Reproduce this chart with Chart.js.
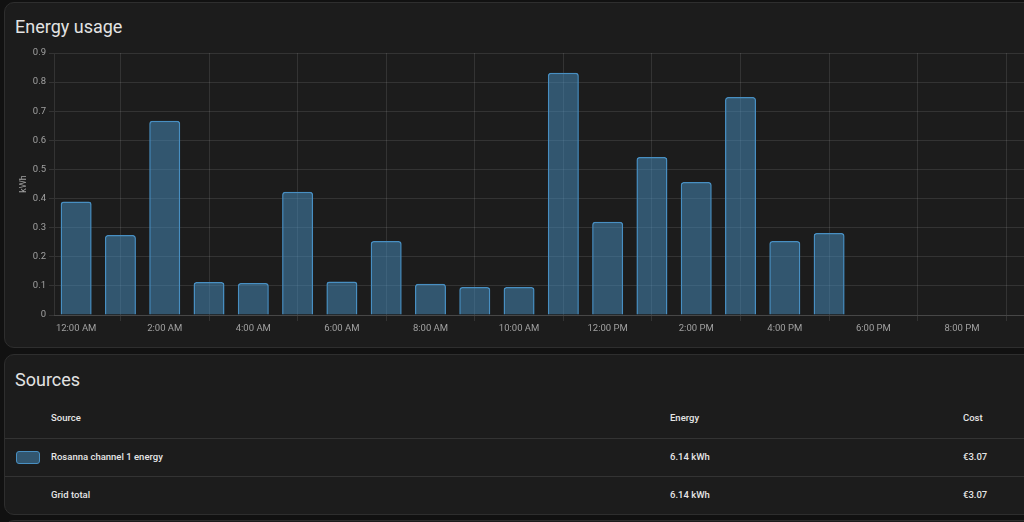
<!DOCTYPE html>
<html>
<head>
<meta charset="utf-8">
<script src="https://cdn.jsdelivr.net/npm/chart.js@4.4.1/dist/chart.umd.min.js"></script>
<style>
    html, body { margin: 0; padding: 0; width: 1024px; height: 522px; overflow: hidden; background: #111111; font-family: Roboto, "Noto Sans", sans-serif; }
    .card { position: absolute; left: 4px; width: 1160px; background: #1c1c1c; border: 1px solid #2e2e2e; border-radius: 10px; box-sizing: border-box; }
    .title { position: absolute; left: 10px; color: #e3e3e3; font-size: 18px; font-weight: 400; }
    #chartWrap { position: absolute; left: 6px; top: 38px; width: 1110px; height: 300px; }
    .row-line { position: absolute; left: 0; right: 0; height: 1px; background: #333333; }
    .cell { position: absolute; color: #e6e6e6; font-size: 9.5px; font-weight: 500; line-height: 12px; }
    .swatch { position: absolute; left: 11px; width: 22px; height: 11px; background: rgba(72, 143, 194, 0.5); border: 1px solid #488fc2; border-radius: 3px; }
</style>
</head>
<body>
<div class="card" style="top:2px;height:346px;">
    <div class="title" style="top:13px;">Energy usage</div>
    <div id="chartWrap"><canvas id="energyChart"></canvas></div>
</div>
<div class="card" style="top:354px;height:161px;">
    <div class="title" style="top:14px;">Sources</div>
    <div class="cell" style="left:46px;top:57px;">Source</div>
    <div class="cell" style="left:665px;top:57px;">Energy</div>
    <div class="cell" style="left:958px;top:57px;">Cost</div>
    <div class="row-line" style="top:83px;"></div>
    <div class="swatch" style="top:96px;"></div>
    <div class="cell" style="left:46px;top:96px;">Rosanna channel 1 energy</div>
    <div class="cell" style="left:665px;top:96px;">6.14 kWh</div>
    <div class="cell" style="left:958px;top:96px;">€3.07</div>
    <div class="row-line" style="top:121px;"></div>
    <div class="cell" style="left:46px;top:134px;">Grid total</div>
    <div class="cell" style="left:665px;top:134px;">6.14 kWh</div>
    <div class="cell" style="left:958px;top:134px;">€3.07</div>
</div>
<div class="card" style="top:520px;height:40px;"></div>

<script>
// Hourly energy usage (kWh), one bar per hour
const hourLabels = [
    '12:00 AM', '1:00 AM', '2:00 AM', '3:00 AM', '4:00 AM', '5:00 AM',
    '6:00 AM', '7:00 AM', '8:00 AM', '9:00 AM', '10:00 AM', '11:00 AM',
    '12:00 PM', '1:00 PM', '2:00 PM', '3:00 PM', '4:00 PM', '5:00 PM',
    '6:00 PM', '7:00 PM', '8:00 PM', '9:00 PM', '10:00 PM', '11:00 PM'
];
const channelEnergy = [
    0.39, 0.275, 0.667, 0.113, 0.11, 0.423,
    0.115, 0.254, 0.107, 0.096, 0.096, 0.832,
    0.32, 0.543, 0.457, 0.749, 0.254, 0.282,
    null, null, null, null, null, null
];
const yTicks = [0, 0.1, 0.2, 0.3, 0.4, 0.5, 0.6, 0.7, 0.8, 0.9];

const gridColor = 'rgba(255, 255, 255, 0.1)';
const tickColor = '#a0a0a0';

new Chart(document.getElementById('energyChart').getContext('2d'), {
    type: 'bar',
    data: {
        labels: hourLabels,
        datasets: [{
            label: 'Rosanna channel 1 energy',
            data: channelEnergy,
            backgroundColor: 'rgba(72, 143, 194, 0.5)',
            borderColor: '#488fc2',
            borderWidth: 1.5,
            borderRadius: 3,
            borderSkipped: 'bottom',
            barPercentage: 0.7,
            categoryPercentage: 1
        }]
    },
    options: {
        responsive: true,
        maintainAspectRatio: false,
        animation: false,
        layout: {
            padding: { top: 12, right: 4 }
        },
        plugins: {
            legend: { display: false },
            tooltip: { enabled: false }
        },
        scales: {
            x: {
                offset: true,
                grid: {
                    offset: false,
                    // vertical lines sit on the odd hours
                    color: ctx => (ctx.index % 2 === 1 ? gridColor : 'rgba(0,0,0,0)'),
                    tickLength: 6
                },
                border: { color: gridColor },
                ticks: {
                    autoSkip: false,
                    maxRotation: 0,
                    color: tickColor,
                    font: { family: 'Roboto', size: 9.5 },
                    padding: 2,
                    callback: (value, index) => (index % 2 === 0 ? hourLabels[index] : '')
                },
                afterFit: scale => { scale.height = 26; }
            },
            y: {
                min: 0,
                max: 0.9,
                afterBuildTicks: scale => { scale.ticks = yTicks.map(v => ({ value: v })); },
                grid: { color: gridColor, tickLength: 5 },
                border: { color: gridColor },
                title: {
                    display: true,
                    text: 'kWh',
                    color: tickColor,
                    font: { family: 'Roboto', size: 9 },
                    padding: { top: 7, bottom: 0 }
                },
                ticks: {
                    color: tickColor,
                    font: { family: 'Roboto', size: 9.5 },
                    padding: 3,
                    callback: value => String(Math.round(value * 10) / 10)
                },
                afterFit: scale => { scale.width = 43; }
            }
        }
    }
});
</script>
</body>
</html>
